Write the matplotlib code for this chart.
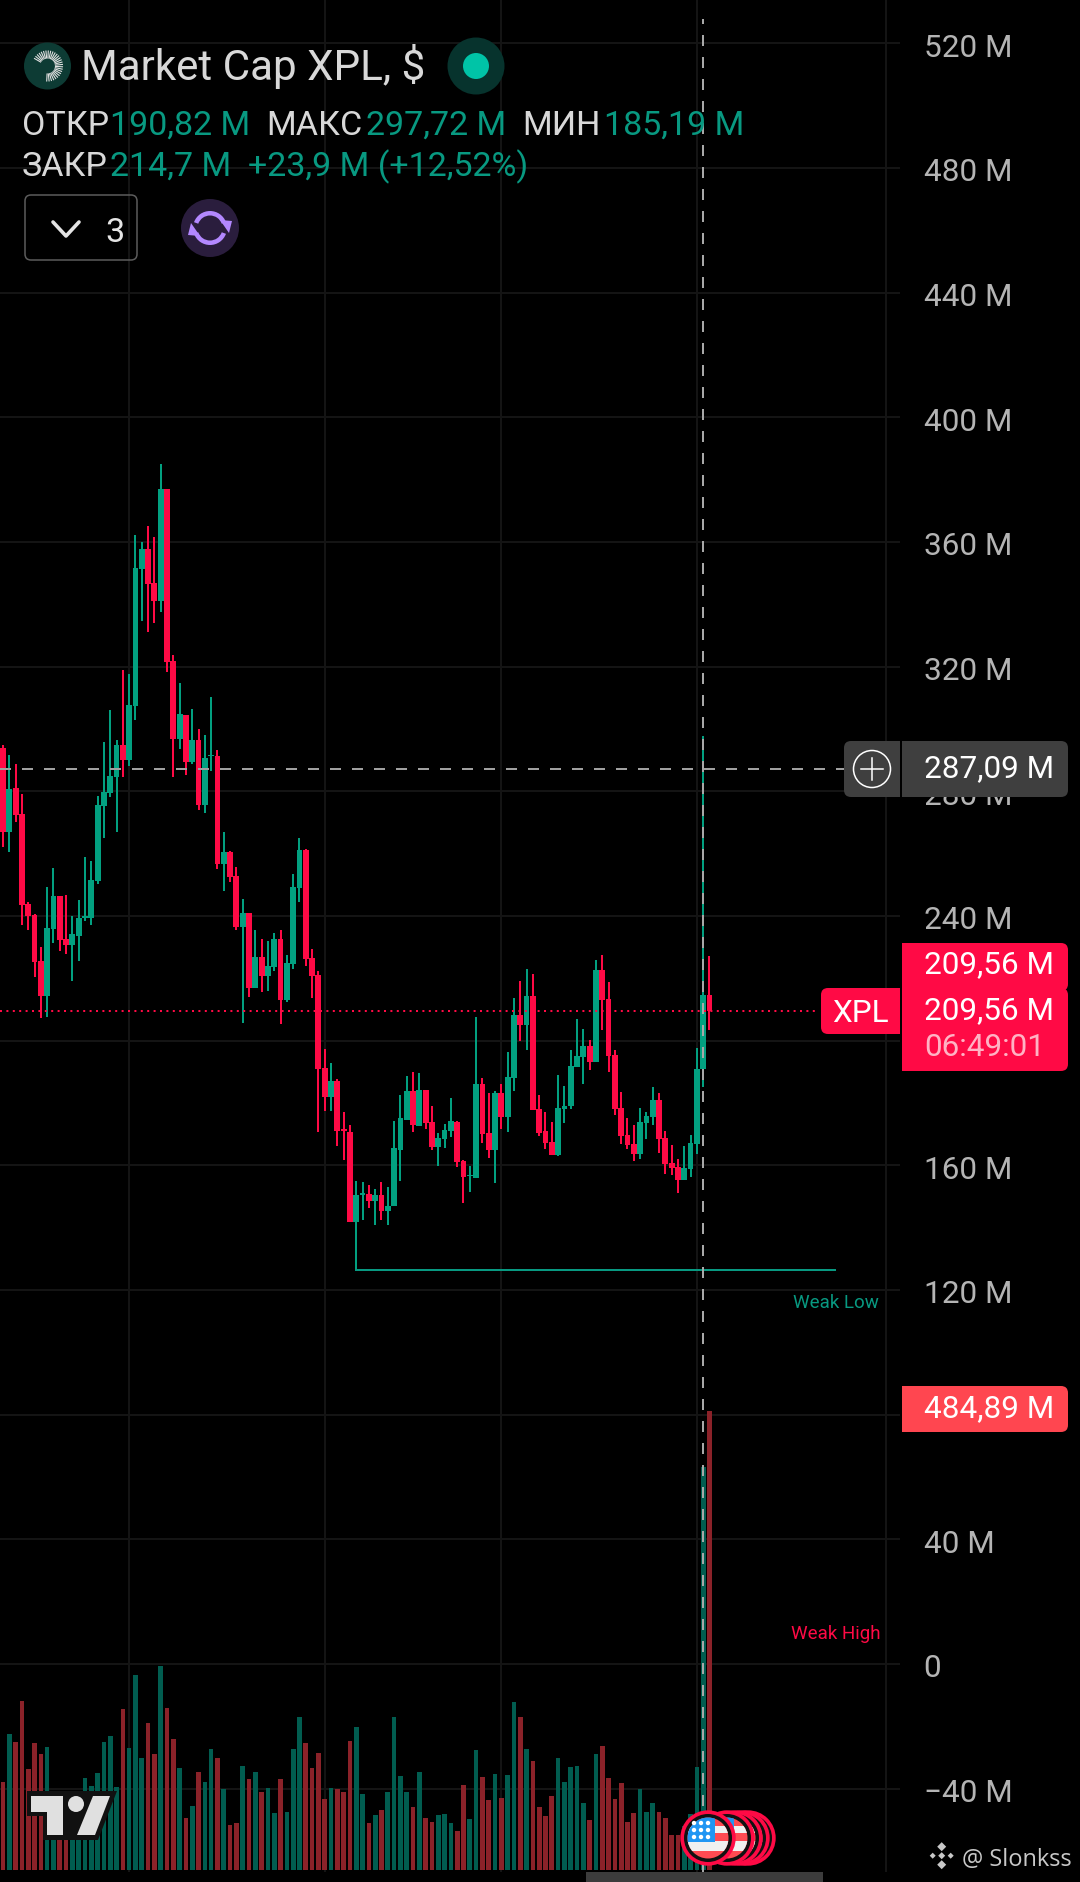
import math
import matplotlib
matplotlib.use("Agg")
import matplotlib.pyplot as plt
from matplotlib.patches import Circle, FancyBboxPatch, Polygon, Rectangle, Wedge
from matplotlib.transforms import ScaledTranslation

plt.rcParams['font.family'] = ['Roboto', 'DejaVu Sans']

# ------------------------------
# Data (all values in millions)
# ------------------------------
opens = [294.0, 267.1, 281.0, 272.8, 243.9, 240.3, 225.6, 214.3, 235.9, 246.4,
         232.6, 230.7, 233.6, 239.4, 239.4, 251.2, 275.3, 279.5, 284.6, 294.9,
         290.0, 307.4, 351.3, 357.7, 346.8, 341.0, 377.0, 321.9, 296.8, 304.5,
         289.4, 296.5, 275.6, 291.2, 291.3, 256.7, 260.6, 252.9, 236.5, 241.0,
         217.0, 226.9, 220.8, 223.7, 232.6, 213.1, 224.6, 249.0, 261.3, 226.5,
         221.0, 191.2, 181.8, 187.0, 171.6, 170.6, 141.7, 150.4, 150.7, 148.4,
         150.4, 145.5, 146.8, 164.8, 174.5, 183.8, 172.5, 184.1, 173.8, 165.8,
         168.4, 170.9, 173.8, 161.3, 156.6, 155.9, 186.0, 170.3, 164.8, 183.1,
         175.4, 187.9, 208.2, 205.0, 214.3, 178.0, 170.9, 167.4, 163.2, 178.0,
         179.0, 191.5, 194.7, 198.2, 193.1, 222.6, 213.3, 195.3, 178.3, 169.6,
         166.7, 163.5, 173.5, 175.4, 180.9, 168.7, 160.6, 159.4, 155.2, 158.7,
         166.7, 190.82, 214.6]
closes = [267.1, 280.8, 272.4, 243.5, 240.1, 225.2, 214.3, 236.1, 246.4, 232.3,
          230.7, 234.2, 239.4, 240.0, 251.6, 275.6, 279.8, 285.0, 294.9, 290.0,
          307.7, 351.7, 357.7, 346.5, 341.0, 377.0, 321.5, 296.8, 304.9, 289.4,
          296.5, 275.6, 290.7, 291.6, 256.7, 260.6, 252.5, 236.5, 241.0, 217.0,
          226.9, 220.8, 224.0, 232.6, 213.1, 225.0, 249.3, 261.3, 226.3, 220.8,
          190.8, 181.8, 187.0, 170.9, 171.0, 141.7, 150.4, 151.0, 148.4, 150.4,
          145.5, 147.1, 165.5, 175.1, 183.8, 172.9, 184.1, 173.5, 165.8, 168.7,
          171.2, 174.1, 161.0, 156.1, 156.8, 186.0, 170.0, 164.8, 183.1, 175.4,
          188.3, 208.2, 205.0, 214.3, 177.6, 170.3, 167.1, 163.2, 178.3, 179.0,
          191.8, 195.0, 198.2, 193.1, 222.6, 213.0, 195.0, 178.0, 169.3, 166.4,
          163.5, 173.8, 175.8, 180.9, 168.4, 160.3, 159.0, 155.2, 159.0, 167.1,
          190.8, 214.7, 209.56]
highs = [294.9, 291.7, 288.8, 279.1, 244.5, 240.7, 230.1, 249.3, 255.4, 246.4,
         246.8, 240.1, 245.2, 259.0, 257.7, 278.5, 295.9, 306.1, 296.5, 319.0,
         317.7, 362.2, 360.0, 365.1, 361.6, 385.0, 377.0, 323.8, 314.8, 304.5,
         306.4, 300.1, 298.0, 310.3, 293.2, 267.0, 260.9, 255.8, 245.5, 241.0,
         235.5, 232.6, 232.0, 234.6, 235.5, 227.5, 253.5, 265.1, 261.5, 229.4,
         222.3, 197.3, 192.8, 187.6, 177.0, 172.9, 154.9, 154.5, 153.6, 152.3,
         154.5, 152.9, 174.1, 182.5, 188.6, 189.9, 189.6, 184.1, 179.0, 170.3,
         173.2, 181.5, 174.1, 161.6, 159.7, 207.5, 187.9, 183.1, 183.8, 186.0,
         196.3, 213.6, 219.1, 223.0, 221.4, 182.5, 177.0, 173.8, 188.9, 185.4,
         197.0, 206.9, 203.7, 200.2, 225.9, 227.5, 218.8, 197.0, 183.5, 175.1,
         172.9, 178.3, 177.0, 185.1, 183.1, 170.9, 166.4, 161.9, 166.1, 169.6,
         197.6, 297.72, 227.1]
lows = [262.1, 260.6, 270.1, 237.2, 235.5, 220.4, 207.4, 207.6, 231.3, 228.8,
        227.9, 219.2, 225.6, 238.4, 237.2, 250.4, 265.1, 278.2, 267.0, 284.6,
        288.1, 302.8, 334.7, 331.1, 334.0, 337.5, 318.3, 284.6, 293.6, 285.2,
        288.8, 274.1, 273.0, 286.5, 255.2, 248.1, 251.0, 235.5, 205.7, 214.1,
        217.0, 215.6, 216.0, 222.5, 205.5, 212.4, 223.1, 244.5, 224.0, 213.7,
        170.6, 177.4, 177.4, 166.1, 161.6, 141.7, 126.4, 142.6, 146.2, 140.7,
        142.6, 141.0, 146.8, 154.9, 174.5, 170.6, 172.5, 171.6, 164.8, 159.7,
        165.5, 169.0, 159.4, 147.8, 151.6, 155.9, 167.1, 162.2, 154.2, 171.6,
        170.6, 183.8, 199.8, 197.0, 177.6, 169.3, 165.1, 163.2, 162.9, 173.5,
        178.0, 191.5, 186.0, 190.5, 193.1, 203.4, 189.9, 176.1, 166.7, 165.1,
        161.3, 161.9, 168.4, 172.9, 163.9, 157.1, 156.8, 151.0, 155.2, 156.1,
        163.5, 185.19, 203.4]
volumes = [92.6, 143.6, 135.2, 178.5, 106.7, 134.1, 122.5, 129.9, 68.0, 61.0,
           54.0, 68.0, 71.0, 97.2, 88.7, 102.4, 135.2, 141.5, 87.6, 170.0,
           128.8, 205.9, 118.3, 155.2, 122.5, 215.4, 171.1, 138.3, 107.7, 54.9,
           67.6, 103.5, 92.9, 127.8, 118.3, 85.5, 47.5, 49.6, 109.8, 96.1,
           103.5, 82.4, 86.6, 60.2, 96.1, 61.2, 127.8, 161.6, 134.1, 107.7,
           123.6, 75.0, 86.6, 85.5, 82.4, 136.2, 151.0, 80.3, 49.6, 58.1,
           63.4, 82.4, 161.6, 99.3, 82.4, 66.5, 103.5, 54.9, 50.7, 58.1,
           59.1, 49.6, 41.2, 89.8, 53.9, 126.7, 98.2, 73.9, 101.4, 76.0,
           100.3, 177.4, 161.6, 127.8, 115.1, 66.5, 57.0, 78.1, 118.3, 92.9,
           108.8, 109.8, 70.8, 52.8, 122.5, 130.9, 97.2, 75.0, 91.9, 50.7,
           60.2, 85.5, 61.2, 70.8, 61.2, 54.9, 37.0, 37.0, 46.8, 59.1,
           108.8, 425.0, 484.89]

price_ticks = [520, 480, 440, 400, 360, 320, 280, 240, 200, 160, 120, 80, 40, 0, -40]
time_grid = [20, 51, 79, 110, 140]
last_price = 209.56
cross_price = 287.09
cross_bar = 111
weak_low = 126.4
weak_low_start = 56

# ------------------------------
# Colours
# ------------------------------
BG = '#000000'
UP = '#02A080'
DOWN = '#FF0A45'
VOL_UP = '#015D50'
VOL_DOWN = '#8B2229'
GRID = '#141414'
AXIS_TEXT = '#b4b4b4'
LABEL = '#d8d8d8'
TEAL = '#089981'

W, H = 1080, 1883
PANEL_W = 900
BOTTOM = 1873
PX = 2 * 0.72  # 2 pixels in points at dpi 100


def price_at(y):
    return (1665 - y) * 0.32085


def bar_at(x):
    return (x - 3) / 6.308


fig = plt.figure(figsize=(W / 100, H / 100), dpi=100, facecolor=BG)

# ------------------------------
# Price panel: grid, candles
# ------------------------------
pos = [0, (H - BOTTOM) / H, PANEL_W / W, BOTTOM / H]
ax = fig.add_axes(pos, facecolor=BG, zorder=1)
ax.set_xlim(bar_at(0), bar_at(PANEL_W))
ax.set_ylim(price_at(BOTTOM), price_at(0))
for s in ax.spines.values():
    s.set_visible(False)

ax.set_xticks(time_grid)
ax.set_xticklabels([])
ax.set_yticks(price_ticks)
ax.set_yticklabels([f'{p} M'.replace('-', '\u2212') if p else '0' for p in price_ticks])
ax.yaxis.tick_right()
ax.tick_params(axis='both', length=0)
ax.tick_params(axis='y', pad=17, labelsize=22.7, labelcolor=AXIS_TEXT)
ax.grid(True, color=GRID, linewidth=PX)
ax.set_axisbelow(True)
nudge = ScaledTranslation(0, -1 / 100, fig.dpi_scale_trans)
for t in ax.get_yticklabels():
    t.set_transform(t.get_transform() + nudge)

idx = list(range(len(opens)))
colors = [UP if c >= o else DOWN for o, c in zip(opens, closes)]
ax.vlines(idx, lows, highs, colors=colors, linewidth=PX, zorder=3)
ax.bar(idx, [max(abs(c - o), 0.4) for o, c in zip(opens, closes)],
       bottom=[min(o, c) for o, c in zip(opens, closes)],
       width=0.92, color=colors, linewidth=0, zorder=3)

# weak low level, last price, crosshair price
ax.plot([weak_low_start, bar_at(835)], [weak_low, weak_low], color=TEAL, linewidth=PX, zorder=3)
ax.axhline(last_price, xmax=(818 / PANEL_W), color=DOWN, linewidth=PX, linestyle=(0, (1, 2.2)), zorder=4)
ax.plot([bar_at(0), bar_at(844)], [cross_price, cross_price], color='#a0a0a0', linewidth=PX,
        linestyle=(0, (5.5, 5.5)), zorder=5)

# ------------------------------
# Volume overlay
# ------------------------------
ax_vol = fig.add_axes(pos, facecolor='none', zorder=2)
ax_vol.set_xlim(ax.get_xlim())
ax_vol.set_ylim(-2.1, 1974.9)
ax_vol.axis('off')
vol_colors = [VOL_UP if c >= o else VOL_DOWN for o, c in zip(opens, closes)]
ax_vol.bar(idx, volumes, width=0.74, color=vol_colors, linewidth=0)
ax_vol.axvline(cross_bar, ymin=0, ymax=(BOTTOM - 20) / BOTTOM, color='#a8a8a8', linewidth=PX,
               linestyle=(0, (5.5, 5.5)))

# ------------------------------
# Overlay in pixel coordinates: header, price labels, logo
# ------------------------------
ov = fig.add_axes([0, 0, 1, 1], facecolor='none', zorder=3)
ov.set_xlim(0, W)
ov.set_ylim(H, 0)
ov.axis('off')


def box(x0, y0, x1, y1, color, r=7, zorder=2, **kw):
    p = FancyBboxPatch((x0 + r, y0 + r), x1 - x0 - 2 * r, y1 - y0 - 2 * r,
                       boxstyle=f'round,pad={r},rounding_size={r}',
                       facecolor=color, linewidth=kw.pop('lw', 0), zorder=zorder, **kw)
    ov.add_patch(p)


def label(x, y, s, color='white', size=22.7, ha='left', zorder=5, family=None):
    ov.text(x, y, s, color=color, fontsize=size, ha=ha, va='center_baseline', zorder=zorder,
            family=family)


# crosshair labels
box(844, 742, 900, 798, '#3f3f3f')
ov.add_patch(Rectangle((892, 742), 8, 56, facecolor='#3f3f3f', linewidth=0, zorder=2))
box(902, 742, 1068, 798, '#3f3f3f')
ov.add_patch(Rectangle((902, 742), 10, 56, facecolor='#3f3f3f', linewidth=0, zorder=2))
ov.add_patch(Circle((872, 770), 18.5, facecolor='none', edgecolor='white', linewidth=1.1, zorder=4))
ov.plot([861, 883], [770, 770], color='white', linewidth=1.1, zorder=4)
ov.plot([872, 872], [759, 781], color='white', linewidth=1.1, zorder=4)
label(924.5, 766, '287,09 M')

# last price labels
box(902, 944, 1068, 992, DOWN)
ov.add_patch(Rectangle((902, 944), 10, 48, facecolor=DOWN, linewidth=0, zorder=2))
box(902, 989, 1068, 1072, DOWN)
ov.add_patch(Rectangle((902, 989), 10, 83, facecolor=DOWN, linewidth=0, zorder=2))
box(821, 989, 900, 1035, DOWN)
ov.add_patch(Rectangle((890, 989), 10, 46, facecolor=DOWN, linewidth=0, zorder=2))
label(924.5, 962, '209,56 M')
label(924.5, 1008, '209,56 M')
label(924.5, 1045, '06:49:01', color='#ffb3c4')
label(860, 1011, 'XPL', ha='center')

# volume label
box(902, 1387, 1068, 1433, '#FF4650')
ov.add_patch(Rectangle((902, 1387), 10, 46, facecolor='#FF4650', linewidth=0, zorder=2))
label(924.5, 1406, '484,89 M')

# weak level captions
label(836, 1301, 'Weak Low', color=TEAL, size=13.5, ha='center')
label(836, 1632, 'Weak High', color=DOWN, size=13.5, ha='center')

# header
ov.add_patch(Circle((47.5, 67), 23.5, facecolor='#0d3b34', linewidth=0))
for a in range(-150, 100, 9):
    ca, sa = math.cos(math.radians(a)), math.sin(math.radians(a))
    ov.plot([47.5 + 8 * ca, 47.5 + 15 * ca], [67 + 8 * sa, 67 + 15 * sa], color='#e0e0e0', linewidth=0.8)
label(81, 62, 'Market Cap XPL, $', color=LABEL, size=30.3)
ov.add_patch(Circle((476, 67), 28.5, facecolor='#07332d', linewidth=0))
ov.add_patch(Circle((476, 67), 13, facecolor='#00c4a7', linewidth=0))

row2 = [(21.5, 'ОТКР', LABEL), (110.5, '190,82 M', TEAL), (266.5, 'МАКС', LABEL), (366.5, '297,72 M', TEAL),
        (522.5, 'МИН', LABEL), (604, '185,19 M', TEAL)]
for x, s, c in row2:
    label(x, 122, s, color=c, size=24.5)
row3 = [(21.5, 'ЗАКР', LABEL), (110.5, '214,7 M', TEAL), (247.5, '+23,9 M (+12,52%)', TEAL)]
for x, s, c in row3:
    label(x, 163, s, color=c, size=24.5)

box(25, 196, 137, 261, 'none', r=6, edgecolor='#5c5c5c', lw=1.1)
ov.plot([53, 66, 79], [223, 237, 223], color='#e4e4e4', linewidth=2.6, solid_capstyle='round')
label(115, 229, '3', color='#e4e4e4', size=24.5, ha='center')

ov.add_patch(Circle((210, 229), 29, facecolor='#2a1d3d', linewidth=0))
ov.add_patch(Wedge((210, 229), 17, 20, 160, width=4.5, facecolor='#b388ff', linewidth=0))
ov.add_patch(Wedge((210, 229), 17, 200, 340, width=4.5, facecolor='#b388ff', linewidth=0))
ov.add_patch(Polygon([(220, 221), (232, 222), (229, 234)], facecolor='#b388ff', linewidth=0))
ov.add_patch(Polygon([(200, 237), (188, 236), (191, 224)], facecolor='#b388ff', linewidth=0))

# TradingView logo
logo_outline = [(27, 1792), (117, 1792), (98, 1841), (43, 1841), (43, 1817), (27, 1817)]
ov.add_patch(Polygon(logo_outline, facecolor='#111111', linewidth=0, zorder=4))
logo_t = [(31, 1797), (63, 1797), (63, 1836), (47, 1836), (47, 1813), (31, 1813)]
ov.add_patch(Polygon(logo_t, facecolor='#e0e0e0', linewidth=0, zorder=5))
ov.add_patch(Circle((76, 1805), 8, facecolor='#e0e0e0', linewidth=0, zorder=5))
logo_slash = [(93, 1797), (110, 1797), (95, 1836), (77, 1836)]
ov.add_patch(Polygon(logo_slash, facecolor='#e0e0e0', linewidth=0, zorder=5))

# event flags
for i, cx in enumerate([748, 742, 735, 727, 708]):
    z = 6 + i * 2
    ov.add_patch(Circle((cx, 1839), 27.7, facecolor=DOWN, linewidth=0, zorder=z))
    ov.add_patch(Circle((cx, 1839), 24, facecolor='#111111', linewidth=0, zorder=z))
    clip = Circle((cx, 1839), 20.5, transform=ov.transData)
    bg = Rectangle((cx - 21, 1818), 42, 42, facecolor='#ff4a52', linewidth=0, zorder=z)
    ov.add_patch(bg)
    bg.set_clip_path(clip)
    for sy, sh in ((1827, 7), (1842, 10)):
        st = Rectangle((cx - 21, sy), 42, sh, facecolor='#f0f0f0', linewidth=0, zorder=z)
        ov.add_patch(st)
        st.set_clip_path(clip)
    can = Rectangle((cx - 21, 1818), 28, 25, facecolor='#2196f3', linewidth=0, zorder=z)
    ov.add_patch(can)
    can.set_clip_path(clip)
    for sx in (-14, -7, 0):
        for sy in (1824, 1831, 1838):
            ov.add_patch(Circle((cx + sx, sy), 2.2, facecolor='white', linewidth=0, zorder=z))

# scrollbar
ov.add_patch(Rectangle((586, 1873), 237, 10, facecolor='#3c3c3c', linewidth=0))

# watermark: diamond icon and name
for dx, dy, r in [(0, -9, 4.5), (-9, 0, 3), (9, 0, 3), (0, 0, 3.5), (0, 9, 4.5)]:
    cx, cy = 941.7 + dx, 1856.7 + dy
    ov.add_patch(Polygon([(cx, cy - r), (cx + r, cy), (cx, cy + r), (cx - r, cy)],
                         facecolor='#c8c8c8', linewidth=0, zorder=6))
label(961.5, 1857, '@ Slonkss', color='#c8c8c8', size=17, zorder=6, family='Open Sans')

fig.savefig('out.png', dpi=100, facecolor=BG)
plt.close()
